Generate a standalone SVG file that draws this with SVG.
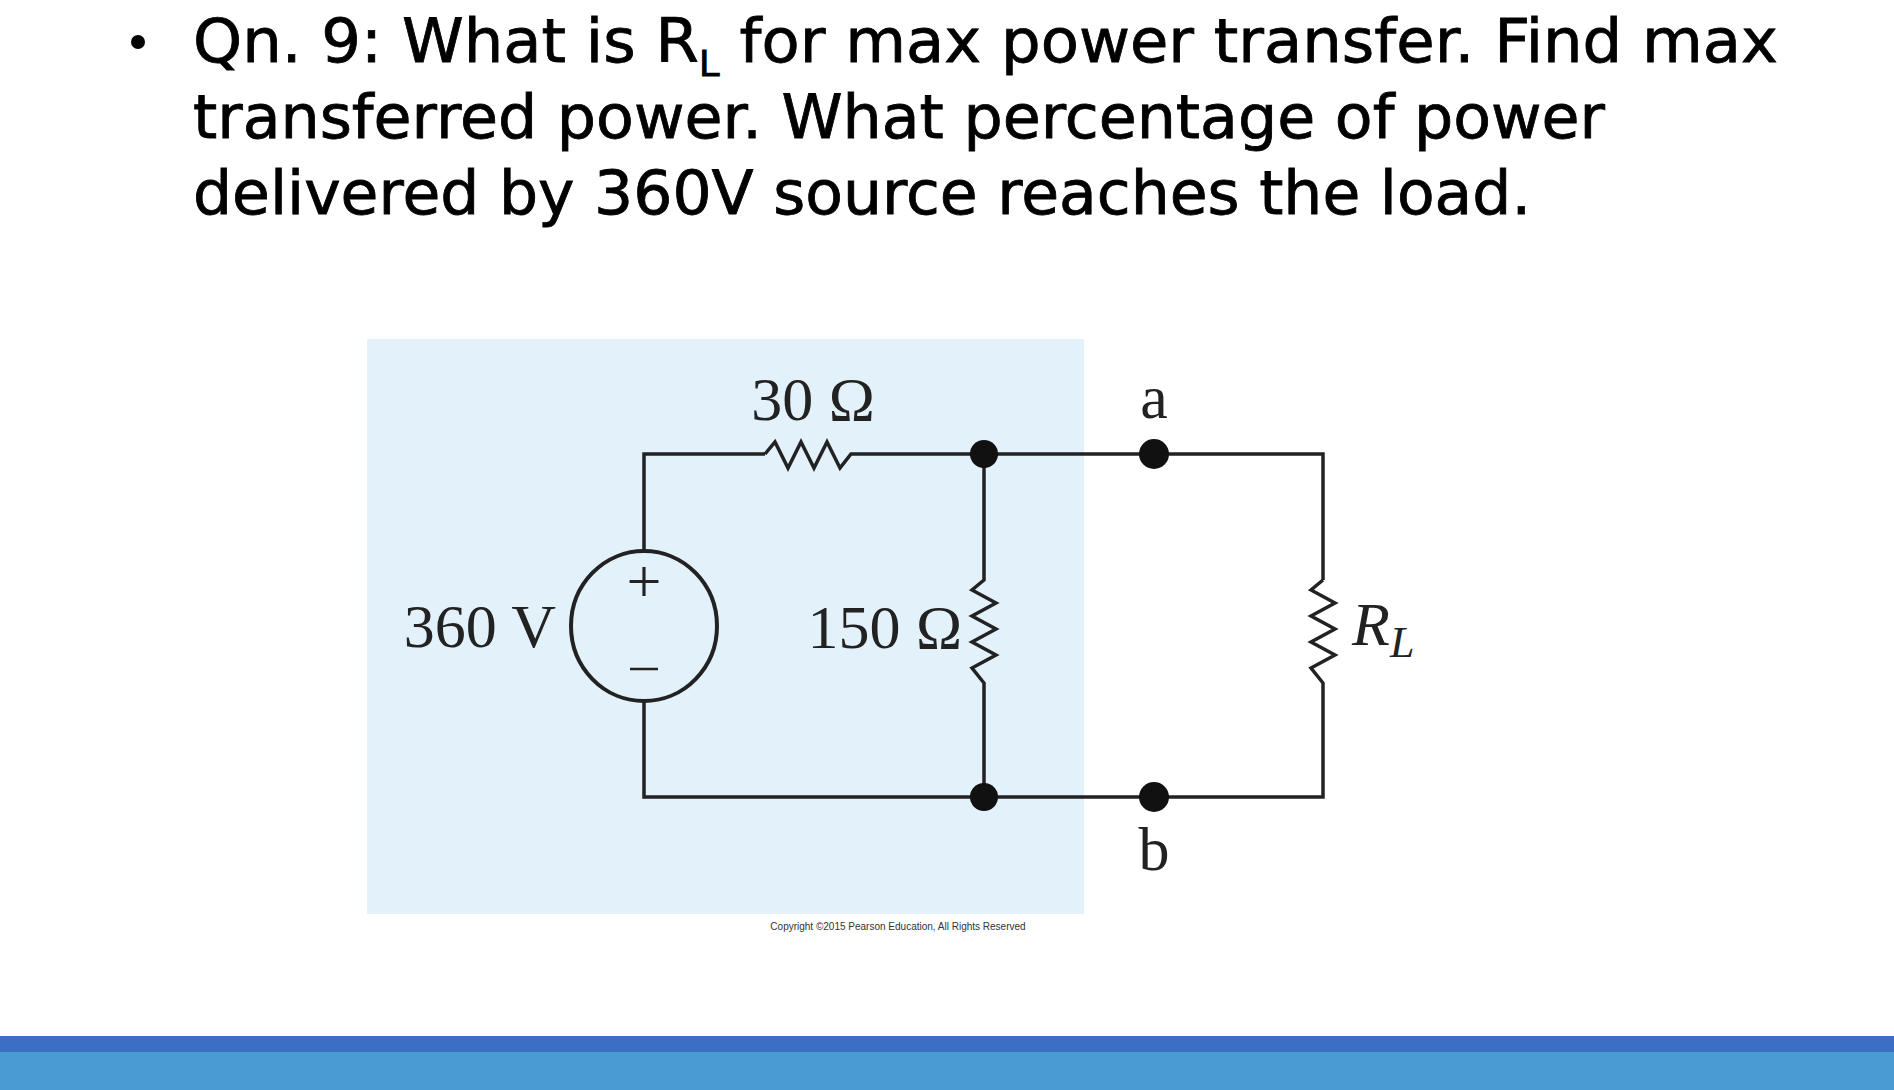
<svg xmlns="http://www.w3.org/2000/svg" width="1894" height="1090" viewBox="0 0 1894 1090">
<style>
.t{font-family:"DejaVu Sans",Verdana,sans-serif;font-size:60px;fill:#000;stroke:#000;stroke-width:0.8}
.s{font-family:"Liberation Serif","Times New Roman",serif;font-size:62px;fill:#222}
.w{stroke:#222;stroke-width:3.5;fill:none;stroke-linejoin:miter}
.d{fill:#111}
</style>
<rect width="1894" height="1090" fill="#fff"/>
<g id="title">
<circle cx="138" cy="42" r="7" fill="#000"/>
<text class="t" x="193" y="62" textLength="1585" lengthAdjust="spacingAndGlyphs">Qn. 9: What is R<tspan font-size="36" dy="14">L</tspan><tspan dy="-14"> for max power transfer. Find max</tspan></text>
<text class="t" x="193" y="138" textLength="1412" lengthAdjust="spacingAndGlyphs">transferred power. What percentage of power</text>
<text class="t" x="193" y="214" textLength="1338" lengthAdjust="spacingAndGlyphs">delivered by 360V source reaches the load.</text>
</g>
<rect id="shade" x="367" y="339" width="717" height="575" fill="#e3f1fb"/>
<g id="connectors">
<polyline class="w" points="644,551 644,454 765,454"/>
<polyline class="w" points="765,454 775,442 788,468 801,442 814,468 827,442 840,468 851,454 860,454"/>
<polyline class="w" points="860,454 1323,454 1323,580"/>
<polyline class="w" points="984,454 984,580 972,590 996,603 972,616 996,629 972,642 996,655 972,668 984,683 984,797"/>
<polyline class="w" points="1323,580 1311,590 1335,603 1311,616 1335,629 1311,642 1335,655 1311,668 1323,683 1323,797 644,797 644,701"/>
</g>
<g id="source">
<ellipse cx="644" cy="626" rx="73" ry="75" fill="none" stroke="#222" stroke-width="4"/>
<text class="s" x="644" y="602" text-anchor="middle" font-size="46">+</text>
<line x1="630" y1="669" x2="658" y2="669" stroke="#222" stroke-width="2.5"/>
<text class="s" x="556" y="647" text-anchor="end">360 V</text>
</g>
<g id="r30"><text class="s" x="813" y="420" text-anchor="middle">30 Ω</text></g>
<g id="r150"><text class="s" x="962" y="648" text-anchor="end">150 Ω</text></g>
<g id="rl"><text class="s" x="1352" y="645" font-style="italic">R<tspan font-size="44" dy="12">L</tspan></text></g>
<g id="nodes">
<circle class="d" cx="984" cy="454" r="14"/>
<circle class="d" cx="984" cy="797" r="14"/>
<circle id="a" class="d" cx="1154" cy="454" r="15"/>
<circle id="b" class="d" cx="1154" cy="797" r="15"/>
<text class="s" x="1154" y="418" text-anchor="middle">a</text>
<text class="s" x="1154" y="870" text-anchor="middle">b</text>
</g>
<text x="898" y="930" text-anchor="middle" font-family="Liberation Sans,Arial,sans-serif" font-size="10" fill="#333">Copyright ©2015 Pearson Education, All Rights Reserved</text>
<rect x="0" y="1036" width="1894" height="16" fill="#3a6fc4"/>
<rect x="0" y="1052" width="1894" height="38" fill="#4a9bd4"/>
</svg>
